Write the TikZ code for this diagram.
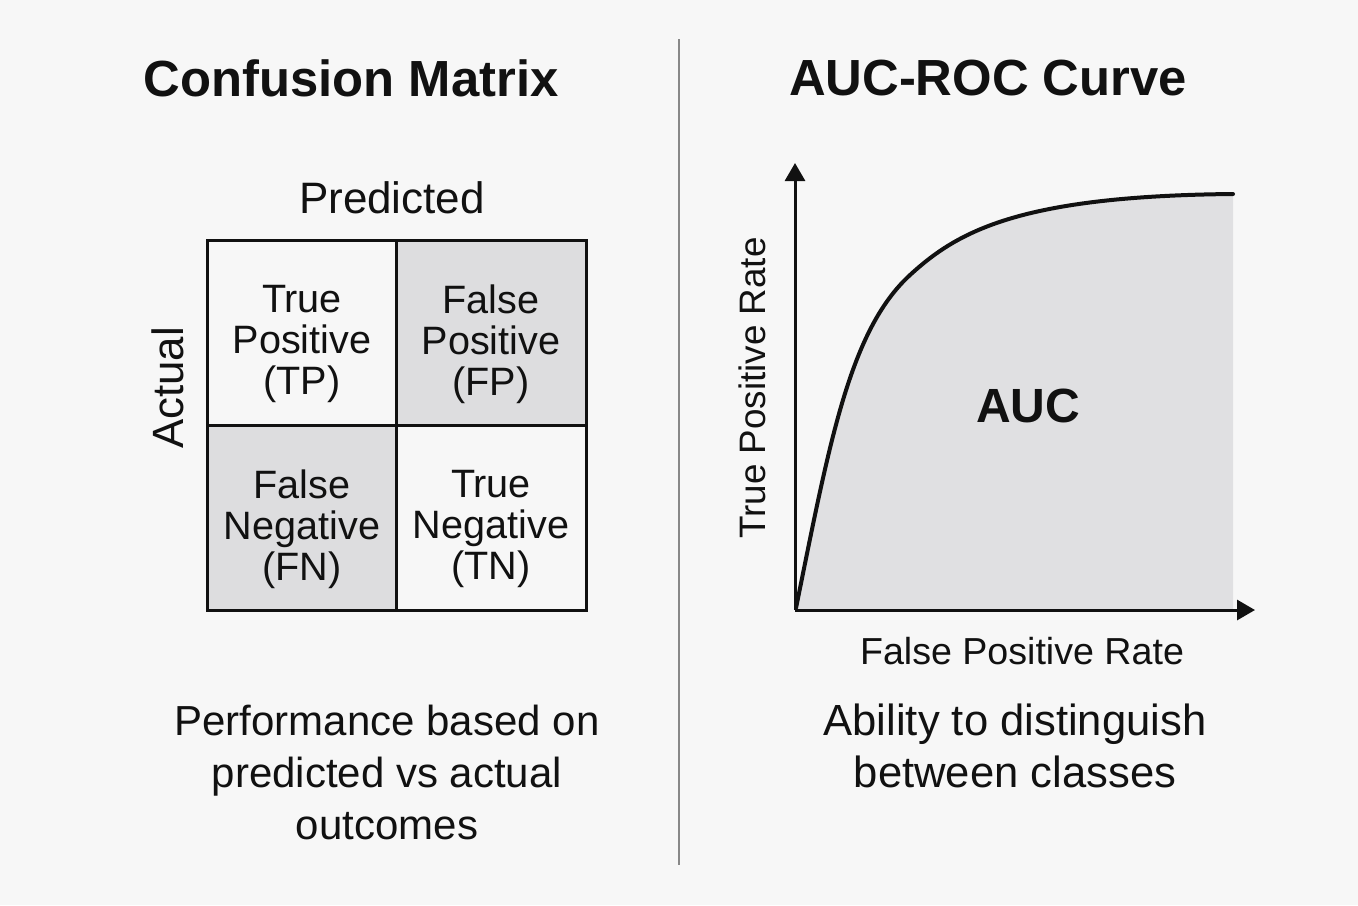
\documentclass[tikz,border=0pt]{standalone}
\usepackage{fontspec}
\setmainfont{Liberation Sans}
\usetikzlibrary{arrows.meta}
\definecolor{bg}{HTML}{F7F7F7}
\definecolor{cellgray}{HTML}{DDDDDF}
\definecolor{aucgray}{HTML}{E0E0E2}
\definecolor{ink}{HTML}{111111}
\definecolor{divider}{HTML}{888888}
\begin{document}
\begin{tikzpicture}[x=0.5pt,y=-0.5pt,
  title/.style={font=\bfseries\fontsize{25.4}{30}\selectfont, text=ink, inner sep=0pt},
  label/.style={font=\fontsize{22}{24}\selectfont, text=ink, inner sep=0pt, align=center},
  caption/.style={font=\fontsize{21}{26}\selectfont, text=ink, inner sep=0pt, align=center},
  celltext/.style={font=\fontsize{19.8}{20.5}\selectfont, text=ink, inner sep=0pt, align=center},
  grid/.style={draw=ink, line width=1.5pt},
  axis/.style={draw=ink, line width=1.5pt, -{Triangle[width=10pt,length=9pt]}},
]
\useasboundingbox (0,0) rectangle (1358,905);
\fill[bg] (0,0) rectangle (1358,905);

% divider
\draw[divider, line width=1pt] (679,39) -- (679,865);

% ---------- Confusion matrix ----------
\node[title] (cmtitle) at (351,78) {Confusion Matrix};
\node[label] (pred) at (392,198) {Predicted};
\node[label, rotate=90, font=\fontsize{21.9}{24}\selectfont] (actual) at (168,388) {Actual};

\fill[cellgray] (396,240) rectangle (586,425);
\fill[cellgray] (207,425) rectangle (396,610);
\draw[grid] (207,240) rectangle (586,610);
\draw[grid] (396,240) -- (396,610);
\draw[grid] (207,425) -- (586,425);

\node[celltext] (tp) at (302,344) {True\\Positive\\(TP)};
\node[celltext] (fp) at (491,344) {False\\Positive\\(FP)};
\node[celltext] (fn) at (302,529) {False\\Negative\\(FN)};
\node[celltext] (tn) at (491,529) {True\\Negative\\(TN)};

\node[caption] (cmcap) at (387,772) {Performance based on\\predicted vs actual\\outcomes};

% ---------- ROC ----------
\node[title] (roctitle) at (988,78) {AUC-ROC Curve};

\fill[aucgray] (796,608) .. controls (830,440) and (850,330) .. (910,275)
  .. controls (958,231) and (1020,196) .. (1233,194) -- (1233,610) -- (796,610) -- cycle;
\draw[ink, line width=2pt, line cap=round] (796,608) .. controls (830,440) and (850,330) .. (910,275)
  .. controls (958,231) and (1020,196) .. (1233,194);

\coordinate (origin) at (795,610);
\coordinate (ytip) at (795,163);
\coordinate (xtip) at (1255,610);
\draw[axis] (origin) -- (ytip);
\draw[axis] (origin) -- (xtip);

\node[font=\bfseries\fontsize{24}{26}\selectfont, text=ink, inner sep=0pt] (auc) at (1028,406) {AUC};
\node[label, rotate=90, font=\fontsize{18.4}{22}\selectfont] (tpr) at (752,388) {True Positive Rate};
\node[label, font=\fontsize{18.8}{22}\selectfont] (fpr) at (1022,651) {False Positive Rate};
\node[caption, font=\fontsize{21.8}{26}\selectfont] (roccap) at (1015,746) {Ability to distinguish\\between classes};
\end{tikzpicture}
\end{document}
